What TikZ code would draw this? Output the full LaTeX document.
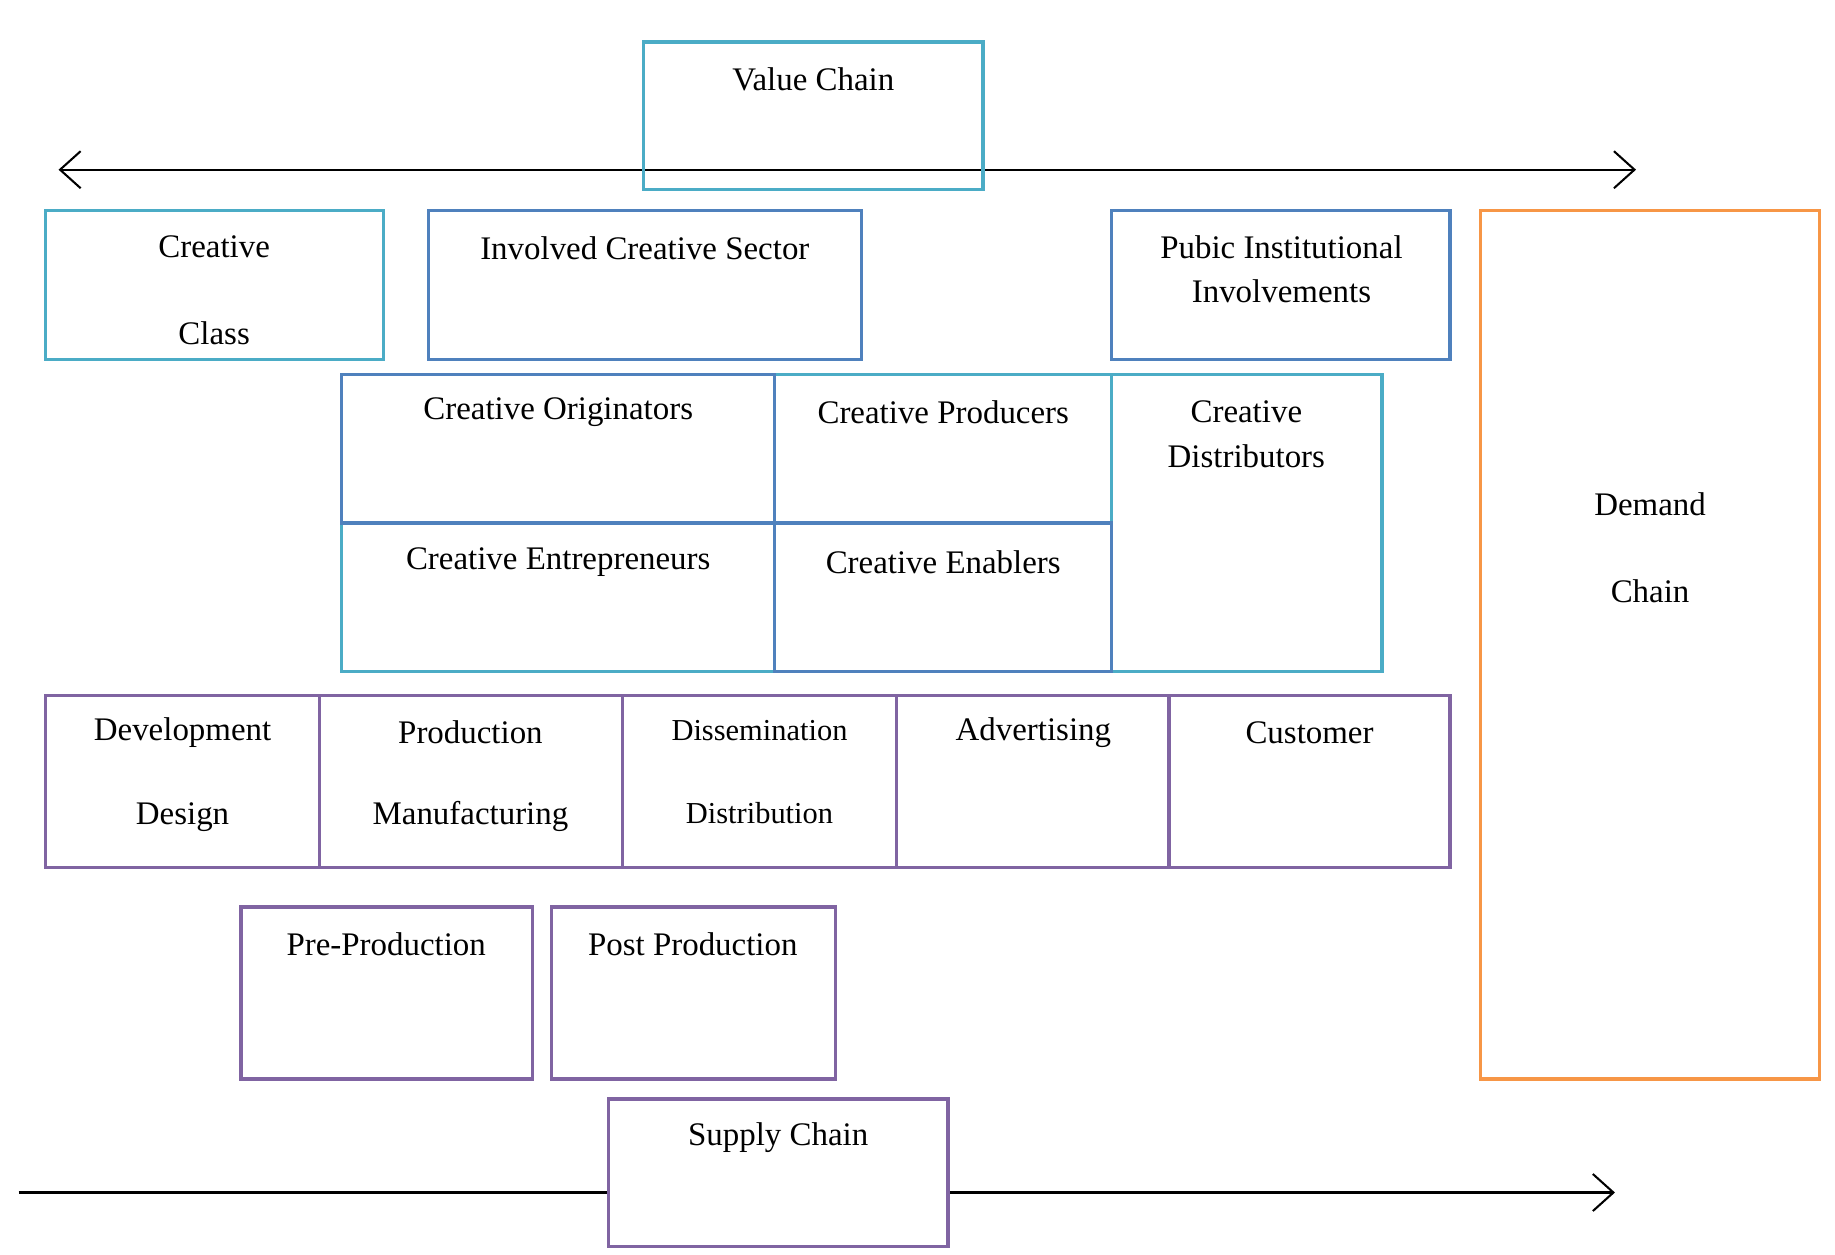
\documentclass[tikz,border=0pt]{standalone}
\usepackage{fontspec}
\setmainfont{Liberation Serif}
\usetikzlibrary{arrows.meta}
\definecolor{cteal}{RGB}{75,172,198}
\definecolor{cblue}{RGB}{79,129,189}
\definecolor{cpurp}{RGB}{128,100,162}
\definecolor{corange}{RGB}{247,150,70}
\begin{document}
\begin{tikzpicture}[x=0.01cm,y=-0.01cm,
  box/.style={draw,line width=0.8pt},
  lbl/.style={font=\fontsize{8}{10}\selectfont,inner sep=0pt,anchor=center},
  arr/.style={-{Straight Barb[length=5pt,width=9pt]},line width=0.5pt}]
\useasboundingbox (0,0) rectangle (1568,1072);
% top arrow
\coordinate (vl) at (50,145); \coordinate (vr) at (1398,145);
\draw[arr,{Straight Barb[length=5pt,width=9pt]}-{Straight Barb[length=5pt,width=9pt]}] (vl) -- (vr);
\coordinate (sl) at (16,1019); \coordinate (sr) at (1380,1019);
\draw[arr] (sl) -- (sr);
% boxes
\draw[box,cteal] (550,36) rectangle (840,162);
\node[lbl] (t1) at (695,68) {Value Chain};
\draw[box,cteal] (39,180) rectangle (328,307);
\node[lbl] (t2) at (183,211) {Creative};
\node[lbl] (t3) at (183,285) {Class};
\draw[box,cblue] (366,180) rectangle (736,307);
\node[lbl] (t4) at (551,212) {Involved Creative Sector};
\draw[box,cblue] (950,180) rectangle (1239,307);
\node[lbl] (t5) at (1095,211) {Pubic Institutional};
\node[lbl] (t6) at (1095,249) {Involvements};
\draw[box,corange] (1265,180) rectangle (1555,922);
\node[lbl] (t7) at (1410,431) {Demand};
\node[lbl] (t8) at (1410,505) {Chain};
\draw[box,cteal] (950,320) rectangle (1181,574);
\node[lbl] (t9) at (1065,352) {Creative};
\node[lbl] (t10) at (1065,390) {Distributors};
\draw[box,cteal] (292,447) rectangle (662,574);
\node[lbl] (t11) at (477,480) {Creative Entrepreneurs};
\draw[box,cteal] (662,320) rectangle (950,447);
\draw[box,cblue] (292,320) rectangle (662,447);
\node[lbl] (t12) at (477,352) {Creative Originators};
\node[lbl] (t13) at (806,352) {Creative Producers};
\draw[box,cblue] (662,447) rectangle (950,574);
\node[lbl] (t14) at (806,480) {Creative Enablers};
% purple row
\draw[box,cpurp] (39,594) rectangle (273,741);
\node[lbl] (t15) at (156,626) {Development};
\node[lbl] (t16) at (156,698) {Design};
\draw[box,cpurp] (273,594) rectangle (532,741);
\node[lbl] (t17) at (402,626) {Production};
\node[lbl] (t18) at (402,698) {Manufacturing};
\draw[box,cpurp] (532,594) rectangle (766,741);
\node[lbl,font=\fontsize{7.4}{9}\selectfont] (t19) at (649,624) {Dissemination};
\node[lbl,font=\fontsize{7.4}{9}\selectfont] (t20) at (649,695) {Distribution};
\draw[box,cpurp] (766,594) rectangle (999,741);
\node[lbl] (t21) at (883,626) {Advertising};
\draw[box,cpurp] (999,594) rectangle (1239,741);
\node[lbl] (t22) at (1119,626) {Customer};
\draw[box,cpurp] (206,775) rectangle (455,922);
\node[lbl] (t23) at (330,807) {Pre-Production};
\draw[box,cpurp] (471,775) rectangle (714,922);
\node[lbl] (t24) at (592,807) {Post Production};
\draw[box,cpurp,fill=white] (520,939) rectangle (810,1065);
\node[lbl] (t25) at (665,972) {Supply Chain};
\end{tikzpicture}
\end{document}
